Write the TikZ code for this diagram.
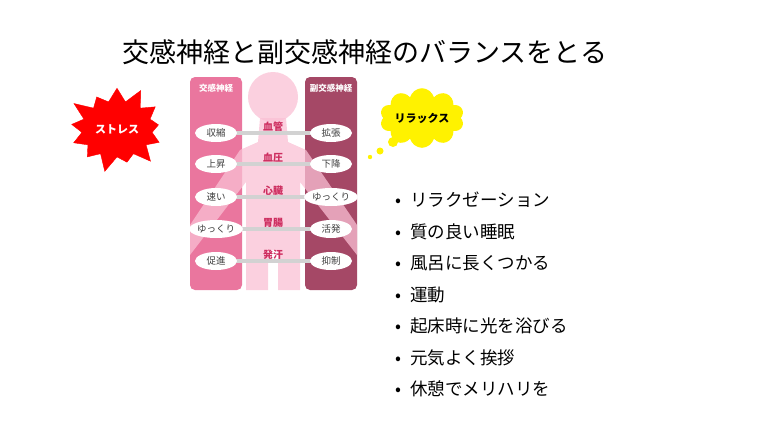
\documentclass[tikz,border=0pt]{standalone}
\usepackage{fontspec}
\setmainfont{Noto Sans CJK JP}
\usetikzlibrary{shapes.symbols,shapes.geometric,positioning}
\definecolor{symcol}{RGB}{234,118,158}
\definecolor{parcol}{RGB}{165,72,102}
\definecolor{bodycol}{RGB}{250,192,212}
\definecolor{organcol}{RGB}{205,45,95}
\tikzset{
  oval/.style={ellipse, fill=white, minimum width=42pt, minimum height=18pt, inner sep=0pt, font=\fontsize{9.5}{9.5}\selectfont, text=black!75},
  organ/.style={font=\bfseries\fontsize{10}{10}\selectfont, text=organcol},
  bar/.style={gray!35, line width=3.5pt},
  bullet/.style={anchor=west, font=\fontsize{17.5}{17.5}\selectfont}
}
\begin{document}
\begin{tikzpicture}[x=1pt,y=-1pt]
\useasboundingbox (0,0) rectangle (768,432);
% title
\node[font=\fontsize{27}{27}\selectfont] (title) at (365,52) {交感神経と副交感神経のバランスをとる};
% columns
\fill[symcol, rounded corners=5pt] (190,77) rectangle (242,290);
\fill[parcol, rounded corners=5pt] (305,77) rectangle (357,290);
\node[font=\bfseries\fontsize{8.5}{8.5}\selectfont, text=white] (symhead) at (216,88) {交感神経};
\node[font=\bfseries\fontsize{8.5}{8.5}\selectfont, text=white] (parhead) at (331,88) {副交感神経};
% body
\begin{scope}[fill=bodycol, fill opacity=0.75]
\fill (273,97) circle (25);
\fill (260,118) -- (286,118) -- (288,142) -- (306,150) -- (357,225) -- (357,255)
  -- (300,182) -- (300,290) -- (278,290) -- (278,250) -- (268,250) -- (268,290)
  -- (246,290) -- (246,182) -- (190,255) -- (190,225) -- (240,150) -- (258,142) -- cycle;
\end{scope}
% rows
\foreach \y/\l/\o/\r [count=\i] in {133/収縮/血管/拡張, 164/上昇/血圧/下降, 197/速い/心臓/ゆっくり, 229/ゆっくり/胃腸/活発, 261/促進/発汗/抑制}{
  \draw[bar] (216,\y) -- (331,\y);
  \node[oval] (l\i) at (216,\y) {\l};
  \node[oval] (r\i) at (331,\y) {\r};
  \node[organ] (o\i) at (273,\y-6) {\o};
}
% stress
\node[starburst, starburst points=13, starburst point height=18pt, fill=red, draw=red,
  inner xsep=3pt, inner ysep=15pt, text=white, font=\bfseries\fontsize{11}{11}\selectfont] (stress) at (117,129) {ストレス};
% relax
\node[cloud, cloud puffs=10, aspect=1.6, fill=yellow, inner sep=-2pt, minimum width=84pt, minimum height=58pt,
  font=\bfseries\fontsize{11}{11}\selectfont] (relax) at (422,118) {リラックス};
\fill[yellow] (393,142) circle (5) (380,151) circle (3.5) (370,157) circle (2.2);
% list
\foreach \t [count=\i] in {リラクゼーション, 質の良い睡眠, 風呂に長くつかる, 運動, 起床時に光を浴びる, 元気よく挨拶, 休憩でメリハリを}{
  \node[bullet] (b\i) at (392,200+31.5*\i-31.5) {•\hspace{9pt}\t};
}
\end{tikzpicture}
\end{document}
